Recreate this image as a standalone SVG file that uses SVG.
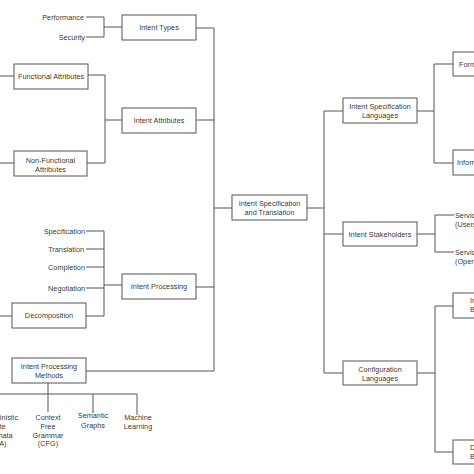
<svg xmlns="http://www.w3.org/2000/svg" width="474" height="474" viewBox="0 0 474 474">
<style>
.box{fill:#fff;stroke:#555;stroke-width:1}
.ln{fill:none;stroke:#555;stroke-width:1}
text{font-family:"Liberation Sans",Arial,sans-serif;font-size:7.3px;fill:#2a2a2a;fill-opacity:0.99}
.c{text-anchor:middle}
.e{text-anchor:end}
.s{text-anchor:start}
</style>
<rect width="474" height="474" fill="#fff"/>
<g id="connectors" class="ln">
<path d="M86 17H104M86 37H104M104 17V37M104 27H122"/>
<path d="M196 28H214M214 28V371"/>
<path d="M0 76H14M88 75H105M105 75V163M105 120H122M0 163H14M87 163H105M196 120H214"/>
<path d="M86 231H104M86 249H104M86 267H104M86 288H104M104 231V316M86 316H104M0 316H12M104 285H122M196 287H214"/>
<path d="M86 371H214"/>
<path d="M48 383V412M0 394H137M93 394V413M137 394V415"/>
<path d="M214 208H232M307 208H324M324 111V373M324 111H343M324 234H343M324 373H343"/>
<path d="M417 111H434M434 64V163M434 64H453M434 163H453"/>
<path d="M417 234H435M435 215V252M435 215H454M435 252H454"/>
<path d="M417 373H435M435 306V452M435 306H453M435 452H453"/>
</g>
<g id="performance"><text class="e" x="84" y="19.5">Performance</text></g>
<g id="security"><text class="e" x="85" y="39.5">Security</text></g>
<g id="intent-types"><rect class="box" x="122" y="15" width="74" height="25"/><text class="c" x="159" y="30">Intent Types</text></g>
<g id="functional-attributes"><rect class="box" x="14" y="64" width="74" height="25"/><text class="c" x="51" y="79">Functional Attributes</text></g>
<g id="intent-attributes"><rect class="box" x="122" y="108" width="74" height="25"/><text class="c" x="159" y="123">Intent Attributes</text></g>
<g id="non-functional-attributes"><rect class="box" x="14" y="151" width="73" height="25"/><text class="c" x="50.5" y="162.5">Non-Functional</text><text class="c" x="50.5" y="171.5">Attributes</text></g>
<g id="specification"><text class="e" x="85" y="233.5">Specification</text></g>
<g id="translation"><text class="e" x="84" y="251.5">Translation</text></g>
<g id="completion"><text class="e" x="85" y="269.5">Completion</text></g>
<g id="negotiation"><text class="e" x="85" y="290.5">Negotiation</text></g>
<g id="decomposition"><rect class="box" x="12" y="303" width="74" height="25"/><text class="c" x="49" y="318">Decomposition</text></g>
<g id="intent-processing"><rect class="box" x="122" y="274" width="74" height="25"/><text class="c" x="159" y="289">Intent Processing</text></g>
<g id="intent-processing-methods"><rect class="box" x="12" y="358" width="74" height="25"/><text class="c" x="49" y="368.5">Intent Processing</text><text class="c" x="49" y="377.5">Methods</text></g>
<g id="dfa"><text class="c" x="-3" y="419.5">Deterministic</text><text class="c" x="-3" y="428.5">Finite</text><text class="c" x="-3" y="437.5">Automata</text><text class="c" x="-3" y="446">(DFA)</text></g>
<g id="cfg"><text class="c" x="48" y="419.5">Context</text><text class="c" x="48" y="428.5">Free</text><text class="c" x="48" y="437.5">Grammar</text><text class="c" x="48" y="446">(CFG)</text></g>
<g id="semantic-graphs"><text class="c" x="93" y="417.5">Semantic</text><text class="c" x="93" y="427.5">Graphs</text></g>
<g id="machine-learning"><text class="c" x="138" y="419.5">Machine</text><text class="c" x="138" y="429">Learning</text></g>
<g id="intent-spec-translation"><rect class="box" x="232" y="195" width="75" height="25"/><text class="c" x="269.5" y="205.5">Intent Specification</text><text class="c" x="269.5" y="214.5">and Translation</text></g>
<g id="intent-spec-languages"><rect class="box" x="343" y="98" width="74" height="25"/><text class="c" x="380" y="108.5">Intent Specification</text><text class="c" x="380" y="117.5">Languages</text></g>
<g id="intent-stakeholders"><rect class="box" x="343" y="222" width="74" height="24"/><text class="c" x="380" y="236.5">Intent Stakeholders</text></g>
<g id="configuration-languages"><rect class="box" x="343" y="361" width="74" height="24"/><text class="c" x="380" y="371.5">Configuration</text><text class="c" x="380" y="380.5">Languages</text></g>
<g id="formal"><rect class="box" x="453" y="52" width="40" height="24"/><text class="s" x="459" y="66.5">Formal Languages</text></g>
<g id="informal"><rect class="box" x="453" y="150" width="40" height="25"/><text class="s" x="457" y="165">Informal Languages</text></g>
<g id="service-users"><text class="s" x="455" y="217.5">Service Consumers</text><text class="s" x="455" y="226.5">(Users)</text></g>
<g id="service-operators"><text class="s" x="455" y="254.5">Service Providers</text><text class="s" x="455" y="263.5">(Operators)</text></g>
<g id="config-lang-1"><rect class="box" x="453" y="293" width="40" height="25"/><text class="s" x="470" y="303">Imperative</text><text class="s" x="470" y="312">Based</text></g>
<g id="config-lang-2"><rect class="box" x="453" y="440" width="40" height="24"/><text class="s" x="470" y="449.5">Declarative</text><text class="s" x="470" y="458.5">Based</text></g>
</svg>
